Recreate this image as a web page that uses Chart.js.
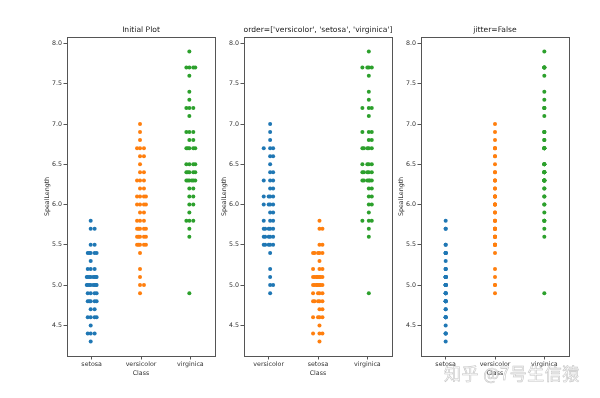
<!DOCTYPE html>
<html>
<head>
<meta charset="utf-8">
<script src="https://cdn.jsdelivr.net/npm/chart.js@4/dist/chart.umd.min.js"></script>
<style>
  html, body { margin: 0; padding: 0; background: #fff; }
  body { width: 600px; height: 398px; position: relative; overflow: hidden; }
  canvas { position: absolute; top: 0; }
  #wm { position: absolute; left: 444px; top: 360px; font-family: "Noto Sans CJK SC", sans-serif;
        font-size: 17px; color: rgba(255,255,255,0.6); white-space: nowrap; letter-spacing: 0.5px;
        -webkit-text-stroke: 0.6px rgba(150,150,150,0.55); }
</style>
</head>
<body>
<canvas id="c1" width="217" height="398" style="left:0px"></canvas>
<canvas id="c2" width="217" height="398" style="left:177px"></canvas>
<canvas id="c3" width="217" height="398" style="left:354px"></canvas>
<div id="wm">知乎 @7号生信猿</div>
<script>
// ---- data (Iris sepal length by class) ----
const setosa = [5.1,4.9,4.7,4.6,5.0,5.4,4.6,5.0,4.4,4.9,5.4,4.8,4.8,4.3,5.8,5.7,5.4,5.1,5.7,5.1,5.4,5.1,4.6,5.1,4.8,5.0,5.0,5.2,5.2,4.7,4.8,5.4,5.2,5.5,4.9,5.0,5.5,4.9,4.4,5.1,5.0,4.5,4.4,5.0,5.1,4.8,5.1,4.6,5.3,5.0];
const versicolor = [7.0,6.4,6.9,5.5,6.5,5.7,6.3,4.9,6.6,5.2,5.0,5.9,6.0,6.1,5.6,6.7,5.6,5.8,6.2,5.6,5.9,6.1,6.3,6.1,6.4,6.6,6.8,6.7,6.0,5.7,5.5,5.5,5.8,6.0,5.4,6.0,6.7,6.3,5.6,5.5,5.5,6.1,5.8,5.0,5.6,5.7,5.7,6.2,5.1,5.7];
const virginica = [6.3,5.8,7.1,6.3,6.5,7.6,4.9,7.3,6.7,7.2,6.5,6.4,6.8,5.7,5.8,6.4,6.5,7.7,7.7,6.0,6.9,5.6,7.7,6.3,6.7,7.2,6.2,6.1,6.4,7.2,7.4,7.9,6.4,6.3,6.1,7.7,6.3,6.4,6.0,6.9,6.7,6.9,5.8,6.8,6.7,6.7,6.3,6.5,6.2,5.9];

const order1 = ['setosa', 'versicolor', 'virginica'];
const order2 = ['versicolor', 'setosa', 'virginica'];
const order3 = ['setosa', 'versicolor', 'virginica'];
const titles = ['Initial Plot', "order=['versicolor', 'setosa', 'virginica']", 'jitter=False'];
const yTicks = [4.5, 5.0, 5.5, 6.0, 6.5, 7.0, 7.5, 8.0];
const yLabel = 'SpealLength';
const xLabel = 'Class';
// fixed horizontal offset pattern for repeated values (stands in for jitter)
const jitterPattern = [-0.02, 0.06, -0.08, 0.10, -0.05, 0.03, 0.09, -0.10, 0.00, -0.07, 0.05, -0.03];

const values = { setosa, versicolor, virginica };
const colors = ['#1f77b4', '#ff7f0e', '#2ca02c'];

function makePoints(vals, pos, jitter, phase) {
  const seen = {};
  return vals.map(v => {
    const k = (seen[v] = (seen[v] || 0) + 1) - 1;
    const dx = jitter ? jitterPattern[(k + phase) % jitterPattern.length] : 0;
    return { x: pos + dx, y: v };
  });
}

const framePlugin = {
  id: 'frame',
  afterDraw(chart, args, opts) {
    const { ctx, chartArea: a } = chart;
    ctx.save();
    ctx.strokeStyle = '#555';
    ctx.lineWidth = 1;
    ctx.strokeRect(Math.round(a.left) + 0.5, Math.round(a.top) + 0.5,
                   Math.round(a.right - a.left), Math.round(a.bottom - a.top));
    // axes title, centred over the plotting area
    ctx.fillStyle = '#222';
    ctx.font = '7.6px "DejaVu Sans"';
    ctx.textAlign = 'center';
    ctx.textBaseline = 'middle';
    ctx.fillText(opts.text, (a.left + a.right) / 2, a.top - 6.5);
    ctx.restore();
  }
};

function build(id, order, title, jitter, phase) {
  const datasets = order.map((name, i) => ({
    label: name,
    data: makePoints(values[name], i, jitter, phase),
    backgroundColor: colors[i],
    borderWidth: 0,
    pointRadius: 2,
    pointHoverRadius: 2
  }));
  new Chart(document.getElementById(id), {
    type: 'scatter',
    data: { datasets },
    plugins: [framePlugin],
    options: {
      responsive: false,
      animation: false,
      devicePixelRatio: 1,
      layout: { padding: { left: 40, right: 2, top: 37, bottom: 20 } },
      plugins: {
        legend: { display: false },
        tooltip: { enabled: false },
        title: { display: false },
        frame: { text: title }
      },
      scales: {
        x: {
          type: 'linear', min: -0.5, max: 2.5,
          afterFit: s => { s.height = 22; },
          afterBuildTicks: s => { s.ticks = order.map((_, i) => ({ value: i })); },
          ticks: {
            callback: v => order[v], color: '#333', padding: 1.5, maxRotation: 0,
            font: { family: 'DejaVu Sans', size: 6.3 }
          },
          grid: { drawOnChartArea: false, drawTicks: true, tickLength: 3.5, tickColor: '#555' },
          border: { display: true, color: '#555' },
          title: {
            display: true, text: xLabel, color: '#333',
            font: { family: 'DejaVu Sans', size: 6.3, lineHeight: 1.2 },
            padding: { top: 0, bottom: 1.2 }
          }
        },
        y: {
          type: 'linear', min: 4.12, max: 8.08,
          afterFit: s => { s.width = 27; },
          afterBuildTicks: s => { s.ticks = yTicks.map(v => ({ value: v })); },
          ticks: {
            callback: v => v.toFixed(1), color: '#333', padding: 1.5,
            font: { family: 'DejaVu Sans', size: 6.3 }
          },
          grid: { drawOnChartArea: false, drawTicks: true, tickLength: 3.5, tickColor: '#555' },
          border: { display: true, color: '#555' },
          title: {
            display: true, text: yLabel, color: '#333',
            font: { family: 'DejaVu Sans', size: 6.3, lineHeight: 1.2 },
            padding: { top: 3.2, bottom: 0 }
          }
        }
      }
    }
  });
}

build('c1', order1, titles[0], true, 0);
build('c2', order2, titles[1], true, 5);
build('c3', order3, titles[2], false, 0);
</script>
</body>
</html>
